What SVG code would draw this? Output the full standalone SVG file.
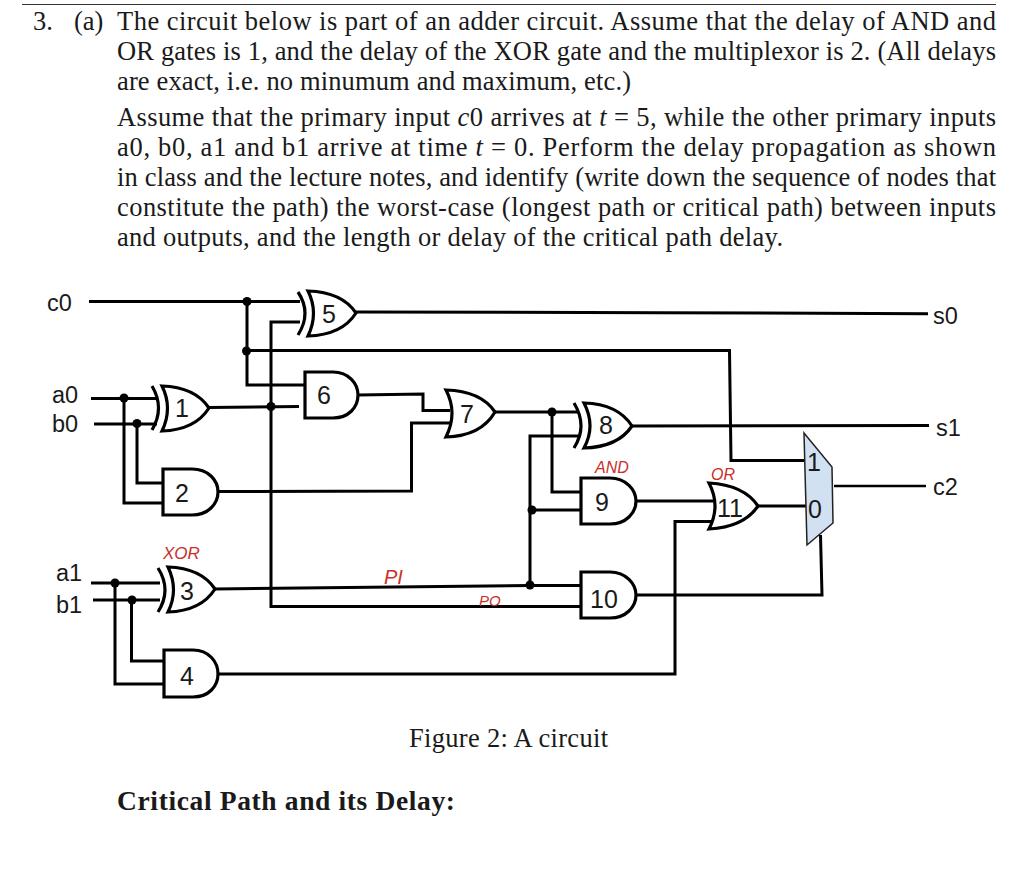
<svg xmlns="http://www.w3.org/2000/svg" width="1024" height="869" viewBox="0 0 1024 869">
<style>
.t{font-family:"Liberation Serif","Times New Roman",serif;font-size:26.5px;fill:#1a1a1a}
.b{font-weight:bold;font-size:27.5px}
.m{font-style:italic}
.l{font-family:"Liberation Sans",Arial,sans-serif;font-size:23.5px;fill:#1a1a1a}
.n{font-family:"Liberation Sans",Arial,sans-serif;font-size:25px;fill:#1a1a1a;text-anchor:middle}
.g{fill:#fff;stroke:#000;stroke-width:3.2;stroke-linejoin:miter}
.a{fill:none;stroke:#000;stroke-width:3.2}
.w{fill:none;stroke:#000;stroke-width:3;stroke-linejoin:miter}
.d{fill:#000;stroke:none}
.r{font-family:"Liberation Sans",Arial,sans-serif;font-style:italic;font-size:16px;fill:#c9302a}
</style>
<rect width="1024" height="869" fill="#fff"/>
<g id="text">
<line x1="22" y1="4.5" x2="996" y2="4.5" stroke="#333" stroke-width="1"/>
<text class="t" x="33" y="30">3.</text>
<text class="t" x="74" y="30">(a)</text>
<text class="t" x="117" y="30" textLength="879">The circuit below is part of an adder circuit. Assume that the delay of AND and</text>
<text class="t" x="117" y="60" textLength="879">OR gates is 1, and the delay of the XOR gate and the multiplexor is 2. (All delays</text>
<text class="t" x="117" y="89.5" textLength="514">are exact, i.e. no minumum and maximum, etc.)</text>
<text class="t" x="117" y="126" textLength="879">Assume that the primary input <tspan class="m">c</tspan>0 arrives at <tspan class="m">t</tspan> = 5, while the other primary inputs</text>
<text class="t" x="117" y="155.5" textLength="879">a0, b0, a1 and b1 arrive at time <tspan class="m">t</tspan> = 0. Perform the delay propagation as shown</text>
<text class="t" x="117" y="185.5" textLength="879">in class and the lecture notes, and identify (write down the sequence of nodes that</text>
<text class="t" x="117" y="215.5" textLength="879">constitute the path) the worst-case (longest path or critical path) between inputs</text>
<text class="t" x="117" y="245.5" textLength="666">and outputs, and the length or delay of the critical path delay.</text>
<text class="t" x="409" y="747" textLength="199">Figure 2: A circuit</text>
<text class="t b" x="117" y="810" textLength="338">Critical Path and its Delay:</text>
</g>
<g id="connectors">
<path class="w" d="M89 301.500H300"/>
<path class="w" d="M247 301.500V385H305"/>
<path class="w" d="M247 350.500H729.500L731 460.500H805"/>
<path class="w" d="M300 322H271V606.500H581"/>
<path class="w" d="M356 312L660 312.700L928 313.700"/>
<path class="w" d="M91 398.500H157"/>
<path class="w" d="M94 424H157"/>
<path class="w" d="M124 398.500V503H163"/>
<path class="w" d="M137 424V483H163"/>
<path class="w" d="M209 407.500L299 406.500"/>
<path class="w" d="M218 491.500L411.500 491V423H450"/>
<path class="w" d="M358 395L423 394V410.500H450"/>
<path class="w" d="M495 412H578"/>
<path class="w" d="M552 412V492H581"/>
<path class="w" d="M578 436H530V585"/>
<path class="w" d="M531 510H581"/>
<path class="w" d="M215 589L530 585.500H581"/>
<path class="w" d="M632 426L929 425.500"/>
<path class="w" d="M636 501H713"/>
<path class="w" d="M758 506H807"/>
<path class="w" d="M636 595H822L820.500 535"/>
<path class="w" d="M218 674H675V521.500H712"/>
<path class="w" d="M91 583H160"/>
<path class="w" d="M93 600H160"/>
<path class="w" d="M115 583V684H164"/>
<path class="w" d="M131.500 600V661H164"/>
<path d="M834 486H926" fill="none" stroke="#000" stroke-width="2.400"/>
<circle class="d" cx="247" cy="301.500" r="4.500"/>
<circle class="d" cx="246.500" cy="351" r="4.500"/>
<circle class="d" cx="271" cy="406.500" r="4.500"/>
<circle class="d" cx="124" cy="398" r="4.500"/>
<circle class="d" cx="137" cy="423.500" r="4.500"/>
<circle class="d" cx="552" cy="412" r="4.500"/>
<circle class="d" cx="532" cy="510" r="4.500"/>
<circle class="d" cx="530" cy="585" r="4.500"/>
<circle class="d" cx="115" cy="583" r="4.500"/>
<circle class="d" cx="132" cy="600" r="4.500"/>
</g>
<g id="gate1"><path class="a" d="M152 386Q165 408 152 430"/><path class="g" d="M162 386Q195 387 209 408Q195 430 162 431Q173 408 162 386Z"/><text class="n" x="182" y="417">1</text></g>
<g id="gate2"><path class="g" d="M163 469H192C208 469 218 480 218 492C218 504 208 515 192 515H163Z"/><text class="n" x="182" y="502">2</text></g>
<g id="gate3"><path class="a" d="M158 568Q172 590 158 612"/><path class="g" d="M168 567Q201 568 215 589Q201 611 168 612Q179 590 168 567Z"/><text class="n" x="187" y="600">3</text></g>
<g id="gate4"><path class="g" d="M164 650H193C209 650 218 662 218 674C218 686 209 697 193 697H164Z"/><text class="n" x="187" y="685">4</text></g>
<g id="gate5"><path class="a" d="M298 292Q312 313 298 335"/><path class="g" d="M308 291Q342 292 356 313Q342 335 308 336Q319 313 308 291Z"/><text class="n" x="329" y="323">5</text></g>
<g id="gate6"><path class="g" d="M305 372H333C349 372 358 384 358 395C358 407 349 418 333 418H305Z"/><text class="n" x="324" y="404">6</text></g>
<g id="gate7"><path class="g" d="M446 390Q481 391 495 412Q481 436 446 437Q458 413 446 390Z"/><text class="n" x="467" y="423">7</text></g>
<g id="gate8"><path class="a" d="M574 403Q588 426 574 448"/><path class="g" d="M584 403Q618 404 632 426Q618 447 584 448Q596 426 584 403Z"/><text class="n" x="606" y="434">8</text></g>
<g id="gate9"><path class="g" d="M581 478H610C626 478 636 490 636 501C636 513 626 524 610 524H581Z"/><text class="n" x="602" y="511">9</text></g>
<g id="gate10"><path class="g" d="M581 572H610C626 572 636 584 636 595C636 607 626 618 610 618H581Z"/><text class="n" x="604" y="608">10</text></g>
<g id="gate11"><path class="g" d="M709 483Q744 485 758 506Q744 527 709 529Q721 506 709 483Z"/><text class="n" x="730" y="517">11</text></g>
<g id="mux"><path d="M804 433L832 467L833 523L807 545Z" fill="#d2e1f1" stroke="#222" stroke-width="1.500"/><text class="n" x="814" y="471">1</text><text class="n" x="815" y="518">0</text></g>
<g id="labels">
<text class="l" x="47" y="311">c0</text>
<text class="l" x="52" y="403">a0</text>
<text class="l" x="52" y="432">b0</text>
<text class="l" x="56" y="581">a1</text>
<text class="l" x="56" y="613">b1</text>
<text class="l" x="933" y="324">s0</text>
<text class="l" x="936" y="436">s1</text>
<text class="l" x="933" y="495">c2</text>
<text class="r" x="163" y="559" style="font-size:17px">XOR</text>
<text class="r" x="384" y="584" style="font-size:20px">PI</text>
<text class="r" x="479" y="606" style="font-size:15px">PO</text>
<text class="r" x="595" y="473">AND</text>
<text class="r" x="711" y="480">OR</text>
</g>
</svg>
